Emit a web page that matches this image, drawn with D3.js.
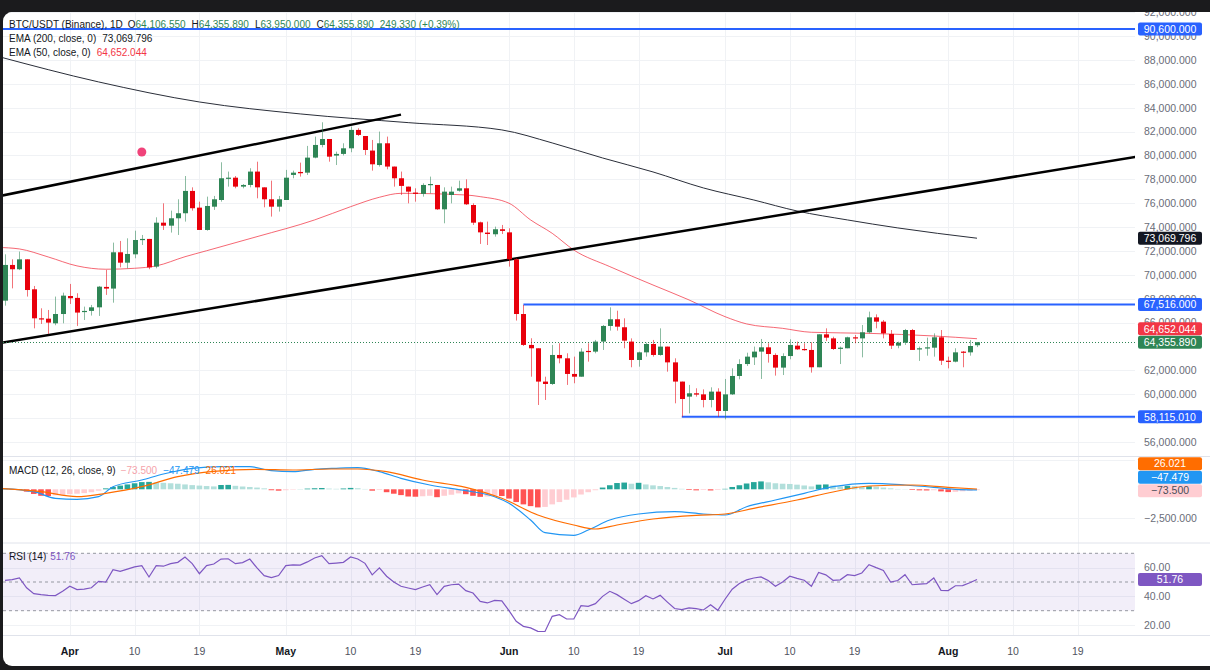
<!DOCTYPE html>
<html>
<head>
<meta charset="utf-8">
<script src="https://cdn.jsdelivr.net/npm/d3@7"></script>
<style>
html, body { margin: 0; padding: 0; background: #1b1b1d; }
svg { display: block; font-family: "Liberation Sans", Arial, sans-serif; }
</style>
</head>
<body>
<svg id="chart" width="1210" height="670"></svg>
<script>
// BTC/USDT daily candles, first candle on 2024-03-23, one per day
const firstDay = "2024-03-23";
const opens = [67840,70830,70470,71300,68790,66360,66330,65940,66720,68230,68070,66920,66980,67280,68990,68850,71890,71020,71720,72920,
  73010,70690,74370,74120,74740,75160,77030,75630,73760,75710,76270,78090,78140,77390,77530,78650,77330,76330,75710,76270,
  78370,78620,78560,79820,80880,81380,79990,80130,80600,82140,81630,80410,79200,81020,79070,78090,77390,76890,76780,77530,
  77530,75490,76690,77050,77250,75850,74400,73540,73400,73820,73560,71300,66720,64130,63850,61060,60860,63290,63010,61700,
  61470,63630,63570,64410,65720,66280,65610,64410,62870,63510,64210,63290,63990,62670,61060,59800,60080,59990,59520,60220,
  58600,59990,61530,62530,63090,63570,63930,63290,62230,63200,64070,63790,63710,62260,65020,64680,63820,63850,64770,64680,
  65190,66440,66080,65050,64070,64320,65380,63760,63850,63900,64770,62810,62730,63570,63510,64106.55];
const highs = [71720,71300,71950,71300,69070,67200,67060,68180,68510,69240,68460,67340,67480,69070,70410,72700,72840,73060,73700,73340,
  73010,74820,75990,75380,76330,78280,77330,76130,76550,76610,79430,78650,78280,77610,78930,79480,77330,77890,76610,78790,
  78730,79400,80800,81580,82780,81380,80320,81020,82420,82280,81630,81300,82000,81580,79070,78650,77390,77250,77670,78230,
  77530,77330,77390,77890,78000,75990,74460,74460,74040,74180,73900,71390,67480,64690,63850,61470,64130,64270,63430,63150,
  63850,64270,64550,65800,67280,67000,66360,64680,63570,64320,64550,65520,63990,63010,61060,60780,60500,60410,60580,60500,
  61280,62170,62930,63480,63990,64630,64270,63430,63430,64600,64410,64270,64350,65020,65520,64820,63990,64820,64960,65800,
  66920,66690,66220,65380,64410,65470,65470,63990,64740,65100,65380,63150,63850,63620,64540,64355.89];
const lows = [67420,68870,70400,68180,65520,65890,65050,65780,65940,67560,65720,66220,66590,66560,68320,67670,70630,70550,71390,72500,
  70470,70550,73760,73540,73340,74460,75380,73760,73700,75440,76130,77390,77250,77250,77330,76410,75660,74880,75300,76270,
  78090,78230,78370,79760,80680,79480,79200,80000,80270,81630,80040,78730,79070,78840,77390,76690,75990,76130,76550,76830,
  75440,74320,75990,76970,75850,74180,72590,72500,73200,73420,70690,66170,64040,61470,59100,59520,60780,62590,60780,60920,
  61470,62730,63430,63710,65330,65330,63850,62260,62310,63150,63150,63230,61890,59240,58120,58400,59800,58900,58900,58120,
  57900,59940,61250,62370,62450,61280,62650,61560,61610,62930,63710,63650,61810,62260,64460,63710,62530,63850,64270,63090,
  65100,65520,64680,63790,63850,64130,63710,62790,63230,63150,62450,62170,62670,62260,63230,63950];
const closes = [70830,70470,71300,68730,66360,66280,66000,66720,68260,68040,66840,66980,67280,69010,68850,71890,71020,71750,72920,73010,
  70630,74370,74120,74740,75160,77030,75580,73760,75770,76330,78090,78140,77390,77530,78650,77330,76330,75710,76330,78140,
  78560,78510,79820,80880,81380,79900,80130,80600,82140,81720,80460,79260,81020,79070,78090,77450,76970,76780,77530,77610,
  75490,76970,76970,77250,75910,74370,73560,73420,73820,73680,71300,66720,64130,63850,61060,60860,63290,63010,61700,61470,
  63570,63540,64410,65720,66280,65660,64490,62870,63510,64210,63290,63990,62670,61060,59600,60080,59970,59520,60220,58600,
  59990,61530,62530,63150,63570,63930,63370,62230,63200,64130,63760,63740,62260,65020,64740,63790,63900,64770,64680,65190,
  66440,66080,65100,64070,64320,65380,63710,63850,63930,64770,62810,62730,63510,63510,64040,64355.89];

// moving averages: [day index, value]
const ema200 = [[-1,88300],[13,86160],[27,84480],[41,83480],[56,82750],[69,82140],[76,81050],[83,79790],[90,78620],
  [97,77280],[104,76270],[110,75350],[117,74600],[124,73930],[135,73069.796]];
const ema50 = [[-1,72300],[2,72170],[6,71500],[10,70750],[14,70470],[18,70550],[21,70750],[25,71520],[28,72020],[35,73200],
  [43,74600],[48,75710],[52,76500],[55,76830],[64,76690],[66,76550],[70,76000],[73,74600],[76,73480],[79,72080],[84,70690],
  [90,69150],[95,67900],[100,66500],[103,65890],[108,65520],[112,65190],[120,65100],[129,64880],[135,64652.044]];

// MACD (12, 26, 9)
const macdLine = [[-1,86],[4,-207],[7,-776],[10,-862],[13,-638],[15,224],[19,802],[22,1319],[26,1810],[30,1948],[34,1948],
  [37,1603],[40,1517],[43,1724],[46,1810],[49,1862],[52,1517],[55,948],[59,370],[64,-121],[68,-638],[70,-1207],[73,-2647],
  [75,-3741],[79,-3966],[81,-3509],[84,-2647],[88,-2129],[93,-1931],[97,-2129],[100,-2216],[103,-1500],[107,-922],
  [111,-345],[115,224],[120,517],[125,370],[129,172],[132,0],[135,-47.479]];
const signalLine = [[-1,86],[5,-207],[10,-638],[14,-345],[19,224],[24,1100],[29,1550],[35,1724],[40,1664],[45,1750],
  [49,1750],[53,1517],[58,802],[64,172],[69,-776],[74,-2216],[79,-3078],[82,-3422],[85,-3078],[90,-2560],[96,-2241],
  [100,-2129],[104,-1638],[110,-922],[115,-233],[120,284],[126,370],[131,172],[135,26.021]];
const macdHist = [30,-30,-60,-200,-400,-560,-580,-520,-480,-420,-380,-330,-250,-120,80,200,320,420,520,620,
  640,600,560,520,480,420,360,320,280,250,370,380,300,240,200,150,80,-80,-120,-80,
  -40,10,60,90,110,60,40,70,120,90,30,-120,-60,-250,-380,-500,-620,-640,-600,-560,
  -680,-560,-470,-350,-420,-560,-650,-620,-560,-580,-800,-1100,-1300,-1450,-1560,-1520,-1300,-1100,-900,-700,
  -450,-250,-80,150,350,540,580,480,560,420,340,280,200,120,40,-60,-90,-60,-100,-60,
  40,200,350,500,620,680,600,520,480,460,400,330,250,400,420,330,250,300,280,200,
  260,230,150,80,30,20,-60,-90,-100,-80,-180,-240,-220,-170,-130,-73.5];

// RSI (14)
const rsiValues = [51.2,51.6,52.8,46,41.9,41.2,40.7,40.5,43.5,47,44.7,45,46,50.5,50,58.6,57.4,59,60.5,61.4,
  53.5,61.4,61,62.8,63.7,67.4,62.8,55.8,61.4,62.5,66,66.2,62.8,63.5,66,59.8,54.4,53,54.5,61.4,
  62,61.8,64,66.7,68.4,62.8,63.2,63.7,67.4,66,63,55,59.8,54,50,47,45.8,44.7,46.5,48.1,
  41.2,47,48.1,48.5,44,42.3,36.5,35.4,37.2,36.8,30,22.6,19.1,18,15.6,15.5,26.1,27.2,24.2,24.2,
  33.5,33,34.9,40,43.5,41.2,38,34.9,37,40.5,38.2,40.7,36,31.5,30.7,32,31.5,30.5,34.2,30.3,
  38,45,49,51.5,52.8,53.5,51,47,50,54,52.5,51.2,47,56.7,55,51.2,51.5,55.1,54.5,56.3,
  62.1,60,58.1,50,51,55.1,48.1,48.5,48.8,52.8,44.2,44,47.4,47.5,49.5,51.76];

// drawings
const trendLines = [[[-1,76570],[55,83420]], [[-1,64260],[157,79883]]];
const levels = [[-1,90600],[72,67516],[94,58115.01]];
const markerDot = [19,80290];

// axis ticks
const priceTicks = [56000,58000,60000,62000,66000,68000,70000,72000,74000,76000,78000,80000,82000,84000,86000,88000,90000,92000];
const macdTicks = [-2500];
const rsiTicks = [60,40,20];
const dateTicks = [["2024-04-01","Apr"],["2024-04-10","10"],["2024-04-19","19"],["2024-05-01","May"],["2024-05-10","10"],
  ["2024-05-19","19"],["2024-06-01","Jun"],["2024-06-10","10"],["2024-06-19","19"],["2024-07-01","Jul"],["2024-07-10","10"],
  ["2024-07-19","19"],["2024-08-01","Aug"],["2024-08-10","10"],["2024-08-19","19"]];

const UP = "#2e8555", DOWN = "#e8000b";
const FONT = "Liberation Sans, Arial, sans-serif";

const svg = d3.select("#chart");
const plotL = 3, plotR = 1135;
const priceTop = 12, priceBot = 456.5, macdTop = 457, macdBot = 543, rsiTop = 543.5, rsiBot = 635.5;

const start = new Date(firstDay + "T00:00:00Z");
const day = i => d3.utcDay.offset(start, i);
const x = d3.scaleUtc().domain([day(0), day(135)]).range([5, 977]);
const xi = i => x(day(i));
const y = d3.scaleLinear().domain([56000, 92000]).range([442, 12.2]);
const yMacd = d3.scaleLinear().domain([-2500, 2500]).range([518.3, 460.3]);
const yRsi = d3.scaleLinear().domain([30, 70]).range([610.7, 553.3]);

const defs = svg.append("defs");
function clip(id, y0, y1) {
    defs.append("clipPath").attr("id", id).append("rect")
        .attr("x", plotL).attr("y", y0).attr("width", plotR - plotL).attr("height", y1 - y0);
}
clip("cPrice", priceTop, priceBot);
clip("cMacd", macdTop, macdBot);
clip("cRsi", rsiTop, rsiBot);
defs.append("clipPath").attr("id", "cCard").append("rect")
    .attr("x", 3).attr("y", 12).attr("width", 1240).attr("height", 654).attr("rx", 9);

const card = svg.append("g").attr("clip-path", "url(#cCard)");
card.append("rect").attr("x", 3).attr("y", 12).attr("width", 1240).attr("height", 654).attr("fill", "#fff");

// grid
const grid = card.append("g").attr("stroke", "#f0f2f5").attr("stroke-width", 1);
dateTicks.forEach(([d]) => {
    const gx = Math.round(x(new Date(d + "T00:00:00Z"))) + 0.5;
    grid.append("line").attr("x1", gx).attr("x2", gx).attr("y1", priceTop).attr("y2", rsiBot);
});
priceTicks.forEach(p => {
    const gy = Math.round(y(p)) + 0.5;
    if (gy < priceBot) grid.append("line").attr("x1", plotL).attr("x2", plotR).attr("y1", gy).attr("y2", gy);
});
[2500, -2500].forEach(v => {
    const gy = Math.round(yMacd(v)) + 0.5;
    grid.append("line").attr("x1", plotL).attr("x2", plotR).attr("y1", gy).attr("y2", gy);
});
rsiTicks.forEach(v => {
    const gy = Math.round(yRsi(v)) + 0.5;
    grid.append("line").attr("x1", plotL).attr("x2", plotR).attr("y1", gy).attr("y2", gy);
});

// pane separators
[priceBot, macdBot, rsiBot].forEach(sy => {
    card.append("line").attr("x1", 3).attr("x2", 1210).attr("y1", sy).attr("y2", sy)
        .attr("stroke", "#e0e3eb").attr("stroke-width", 1);
});

// ---------- price pane ----------
const pg = card.append("g").attr("clip-path", "url(#cPrice)");

const line = d3.line().x(d => xi(d[0])).y(d => y(d[1]));
const smooth = d3.line().x(d => xi(d[0])).y(d => y(d[1])).curve(d3.curveMonotoneX);

pg.append("path").attr("d", smooth(ema200)).attr("fill", "none").attr("stroke", "#2a2e39").attr("stroke-width", 1);
pg.append("path").attr("d", smooth(ema50)).attr("fill", "none").attr("stroke", "#f23645").attr("stroke-opacity", 0.75).attr("stroke-width", 1);

trendLines.forEach(t => {
    pg.append("path").attr("d", line(t)).attr("fill", "none").attr("stroke", "#000").attr("stroke-width", 2.5);
});

levels.forEach(([i, p]) => {
    pg.append("line").attr("x1", Math.max(plotL, xi(i))).attr("x2", plotR)
        .attr("y1", y(p)).attr("y2", y(p)).attr("stroke", "#2962ff").attr("stroke-width", 2);
});

const lastClose = closes[closes.length - 1];
pg.append("line").attr("x1", plotL).attr("x2", plotR)
    .attr("y1", Math.round(y(lastClose)) + 0.5).attr("y2", Math.round(y(lastClose)) + 0.5)
    .attr("stroke", UP).attr("stroke-width", 1).attr("stroke-dasharray", "1,2");

const candles = opens.map((o, i) => ({ i, o, h: highs[i], l: lows[i], c: closes[i] }));
const cg = pg.selectAll("g.candle").data(candles).join("g").attr("class", "candle");
cg.append("line")
    .attr("x1", d => Math.round(xi(d.i)) + 0.5).attr("x2", d => Math.round(xi(d.i)) + 0.5)
    .attr("y1", d => y(d.h)).attr("y2", d => y(d.l))
    .attr("stroke", d => d.c >= d.o ? UP : DOWN).attr("stroke-opacity", 0.55).attr("stroke-width", 1);
cg.append("rect")
    .attr("x", d => Math.round(xi(d.i)) - 2).attr("width", 5)
    .attr("y", d => y(Math.max(d.o, d.c)))
    .attr("height", d => Math.max(1.2, Math.abs(y(d.o) - y(d.c))))
    .attr("fill", d => d.c >= d.o ? UP : DOWN);

pg.append("circle").attr("cx", xi(markerDot[0])).attr("cy", y(markerDot[1])).attr("r", 4.5).attr("fill", "#f0437a");

// ---------- MACD pane ----------
const mg = card.append("g").attr("clip-path", "url(#cMacd)");
mg.selectAll("rect").data(macdHist).join("rect")
    .attr("x", (v, i) => xi(i) - 2.8).attr("width", 5.6)
    .attr("y", v => Math.min(yMacd(v), yMacd(0)))
    .attr("height", v => Math.abs(yMacd(v) - yMacd(0)))
    .attr("fill", (v, i) => {
        const prev = i > 0 ? macdHist[i - 1] : 0;
        if (v >= 0) return v >= prev ? "#26a69a" : "#b2dfdb";
        return v <= prev ? "#ff5252" : "#ffcdd2";
    });
const macdPath = d3.line().x(d => xi(d[0])).y(d => yMacd(d[1])).curve(d3.curveMonotoneX);
mg.append("path").attr("d", macdPath(macdLine)).attr("fill", "none").attr("stroke", "#2196f3").attr("stroke-width", 1.2);
mg.append("path").attr("d", macdPath(signalLine)).attr("fill", "none").attr("stroke", "#ff6d00").attr("stroke-width", 1.2);

// ---------- RSI pane ----------
const rg = card.append("g").attr("clip-path", "url(#cRsi)");
rg.append("rect").attr("x", plotL).attr("width", plotR - plotL)
    .attr("y", yRsi(70)).attr("height", yRsi(30) - yRsi(70)).attr("fill", "rgba(126,87,194,0.1)");
[70, 50, 30].forEach(v => {
    rg.append("line").attr("x1", plotL).attr("x2", plotR).attr("y1", yRsi(v)).attr("y2", yRsi(v))
        .attr("stroke", "#9598a1").attr("stroke-width", 1).attr("stroke-dasharray", "3,3");
});
rg.append("path")
    .attr("d", d3.line().x((v, i) => xi(i)).y(v => yRsi(v))(rsiValues))
    .attr("fill", "none").attr("stroke", "#7e57c2").attr("stroke-width", 1.2);

// ---------- right axis ----------
const fmt3 = d3.format(",.3f"), fmt2 = d3.format(".2f");
const axisText = (ty, label) => card.append("text").attr("x", 1144).attr("y", ty + 3.8)
    .attr("font-family", FONT).attr("font-size", "10.5px").attr("fill", "#6a6d78").text(label);
priceTicks.forEach(p => axisText(y(p), fmt3(p)));
macdTicks.forEach(v => axisText(yMacd(v), fmt3(v)));
rsiTicks.forEach(v => axisText(yRsi(v), fmt2(v)));

function valueBoxes(list) {
    // stack from the lowest box upwards so they never overlap
    list.sort((a, b) => b.y - a.y);
    let prev = Infinity;
    list.forEach(b => {
        const cy = Math.min(b.y, prev - 13.5);
        prev = cy;
        card.append("rect").attr("x", 1138).attr("y", cy - 6.5).attr("width", 64).attr("height", 13)
            .attr("rx", 2).attr("fill", b.bg);
        card.append("text").attr("x", 1170).attr("y", cy + 3.8).attr("text-anchor", "middle")
            .attr("font-family", FONT).attr("font-size", "10.5px").attr("fill", b.fg || "#fff").text(b.label);
    });
}
valueBoxes([
    { y: y(levels[0][1]), bg: "#2962ff", label: fmt3(levels[0][1]) },
    { y: y(ema200[ema200.length - 1][1]), bg: "#131722", label: fmt3(ema200[ema200.length - 1][1]) }
]);
valueBoxes([{ y: y(levels[1][1]), bg: "#2962ff", label: fmt3(levels[1][1]) }]);
valueBoxes([
    { y: y(ema50[ema50.length - 1][1]), bg: "#f23645", label: fmt3(ema50[ema50.length - 1][1]) },
    { y: y(lastClose), bg: UP, label: fmt3(lastClose) }
]);
valueBoxes([{ y: y(levels[2][1]), bg: "#2962ff", label: fmt3(levels[2][1]) }]);

const macdLast = macdLine[macdLine.length - 1][1], sigLast = signalLine[signalLine.length - 1][1];
const histLast = macdHist[macdHist.length - 1];
valueBoxes([
    { y: yMacd(sigLast), bg: "#ff6d00", label: fmt3(sigLast) },
    { y: yMacd(macdLast), bg: "#2196f3", label: fmt3(macdLast) },
    { y: yMacd(histLast) + 0.5, bg: "#ffcdd2", fg: "#4a4d57", label: fmt3(histLast) }
]);
const rsiLast = rsiValues[rsiValues.length - 1];
valueBoxes([{ y: yRsi(rsiLast), bg: "#7e57c2", label: fmt2(rsiLast) }]);

// ---------- date axis ----------
dateTicks.forEach(([d, label]) => {
    const isMonth = isNaN(+label);
    card.append("text").attr("x", x(new Date(d + "T00:00:00Z"))).attr("y", 655)
        .attr("text-anchor", "middle").attr("font-family", FONT).attr("font-size", "10.5px")
        .attr("font-weight", isMonth ? "bold" : "normal")
        .attr("fill", isMonth ? "#131722" : "#50535e").text(label);
});

// ---------- legends (text flows left to right) ----------
function legendRow(ty, parts) {
    const t = card.append("text").attr("x", 9).attr("y", ty)
        .attr("font-family", FONT).attr("font-size", "10px");
    parts.forEach(([dx, txt, col]) => t.append("tspan").attr("dx", dx).attr("fill", col).text(txt));
}
const last = candles[candles.length - 1];
legendRow(27.5, [
    [0, "BTC/USDT (Binance), 1D", "#131722"],
    [5, "O", "#131722"], [0, fmt3(last.o), UP],
    [6, "H", "#131722"], [0, fmt3(last.h), UP],
    [6, "L", "#131722"], [0, fmt3(last.l), UP],
    [6, "C", "#131722"], [0, fmt3(last.c), UP],
    [6, "249.330 (+0.39%)", UP]
]);
legendRow(41.5, [[0, "EMA (200, close, 0)", "#131722"], [6, fmt3(ema200[ema200.length - 1][1]), "#131722"]]);
legendRow(55.5, [[0, "EMA (50, close, 0)", "#131722"], [6, fmt3(ema50[ema50.length - 1][1]), "#f23645"]]);
legendRow(474, [
    [0, "MACD (12, 26, close, 9)", "#131722"],
    [5, fmt3(histLast), "#f5a3aa"],
    [6, fmt3(macdLast), "#2196f3"],
    [6, fmt3(sigLast), "#ff6d00"]
]);
legendRow(559.5, [[0, "RSI (14)", "#131722"], [4, fmt2(rsiLast), "#7e57c2"]]);
</script>
</body>
</html>
